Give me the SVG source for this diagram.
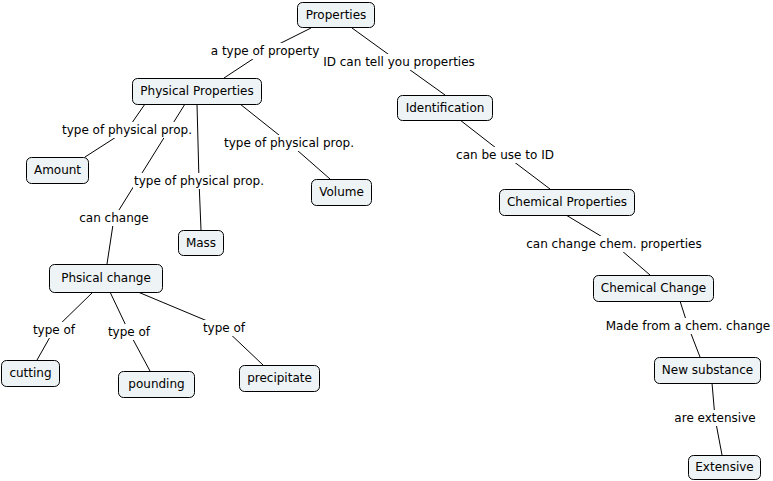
<svg xmlns="http://www.w3.org/2000/svg" width="773" height="481" viewBox="0 0 773 481">
<style>
.n rect{fill:#eef3f5;stroke:#000;stroke-width:1}
text{font-family:"DejaVu Sans",Verdana,sans-serif;font-size:12px;fill:#000;text-anchor:middle;dominant-baseline:central}
.c polyline{fill:none;stroke:#000;stroke-width:1}
.l rect{fill:#fff}
</style>
<rect width="773" height="481" fill="#fff"/>
<g id="connectors" class="c">
<polyline points="311,28 265,51 224,78"/>
<polyline points="352,28 399,62 445,95"/>
<polyline points="145,104 127,130 85,157"/>
<polyline points="240,104 289,143 330,179"/>
<polyline points="197,104 199,181 201,230"/>
<polyline points="185,104 114,218 107,264"/>
<polyline points="460,120 505,155 550,189"/>
<polyline points="566,215 614,244 650,275"/>
<polyline points="680,301 688,326 700,357"/>
<polyline points="712,383 715,418 722,455"/>
<polyline points="93,292 54,330 37,360"/>
<polyline points="110,292 129,332 150,371"/>
<polyline points="138,292 224,328 263,365"/>
</g>
<g id="labels" class="l">
<rect x="209" y="43" width="112" height="16"/><text x="265" y="51">a type of property</text>
<rect x="321" y="54" width="156" height="16"/><text x="399" y="62">ID can tell you properties</text>
<rect x="61" y="122" width="132" height="16"/><text x="127" y="130">type of physical prop.</text>
<rect x="223" y="135" width="132" height="16"/><text x="289" y="143">type of physical prop.</text>
<rect x="133" y="173" width="132" height="16"/><text x="199" y="181">type of physical prop.</text>
<rect x="79" y="210" width="70" height="16"/><text x="114" y="218">can change</text>
<rect x="455" y="147" width="100" height="16"/><text x="505" y="155">can be use to ID</text>
<rect x="527" y="236" width="174" height="16"/><text x="614" y="244">can change chem. properties</text>
<rect x="605" y="318" width="166" height="16"/><text x="688" y="326">Made from a chem. change</text>
<rect x="673" y="410" width="84" height="16"/><text x="715" y="418">are extensive</text>
<rect x="31" y="322" width="46" height="16"/><text x="54" y="330">type of</text>
<rect x="106" y="324" width="46" height="16"/><text x="129" y="332">type of</text>
<rect x="201" y="320" width="46" height="16"/><text x="224" y="328">type of</text>
</g>
<g id="properties" class="n"><rect x="297.5" y="2.5" width="77" height="25" rx="5"/><text x="336" y="15">Properties</text></g>
<g id="physical-properties" class="n"><rect x="132.5" y="78.5" width="129" height="26" rx="5"/><text x="197" y="91">Physical Properties</text></g>
<g id="identification" class="n"><rect x="397.5" y="95.5" width="95" height="25" rx="5"/><text x="445" y="108">Identification</text></g>
<g id="amount" class="n"><rect x="26.5" y="157.5" width="62" height="26" rx="5"/><text x="57.5" y="170">Amount</text></g>
<g id="volume" class="n"><rect x="311.5" y="179.5" width="60" height="26" rx="5"/><text x="341.5" y="192">Volume</text></g>
<g id="mass" class="n"><rect x="178.5" y="230.5" width="45" height="25" rx="5"/><text x="201" y="243">Mass</text></g>
<g id="chemical-properties" class="n"><rect x="499.5" y="189.5" width="135" height="26" rx="5"/><text x="567" y="202">Chemical Properties</text></g>
<g id="phsical-change" class="n"><rect x="49.5" y="264.5" width="113" height="28" rx="5"/><text x="106" y="278">Phsical change</text></g>
<g id="chemical-change" class="n"><rect x="593.5" y="275.5" width="120" height="26" rx="5"/><text x="653.5" y="288">Chemical Change</text></g>
<g id="cutting" class="n"><rect x="1.5" y="360.5" width="58" height="26" rx="5"/><text x="30.5" y="373">cutting</text></g>
<g id="pounding" class="n"><rect x="118.5" y="371.5" width="76" height="26" rx="5"/><text x="156.5" y="384">pounding</text></g>
<g id="precipitate" class="n"><rect x="239.5" y="365.5" width="80" height="26" rx="5"/><text x="279.5" y="378">precipitate</text></g>
<g id="new-substance" class="n"><rect x="654.5" y="357.5" width="106" height="26" rx="5"/><text x="707.5" y="370">New substance</text></g>
<g id="extensive" class="n"><rect x="688.5" y="455.5" width="72" height="24" rx="5"/><text x="724.5" y="467">Extensive</text></g>
</svg>
